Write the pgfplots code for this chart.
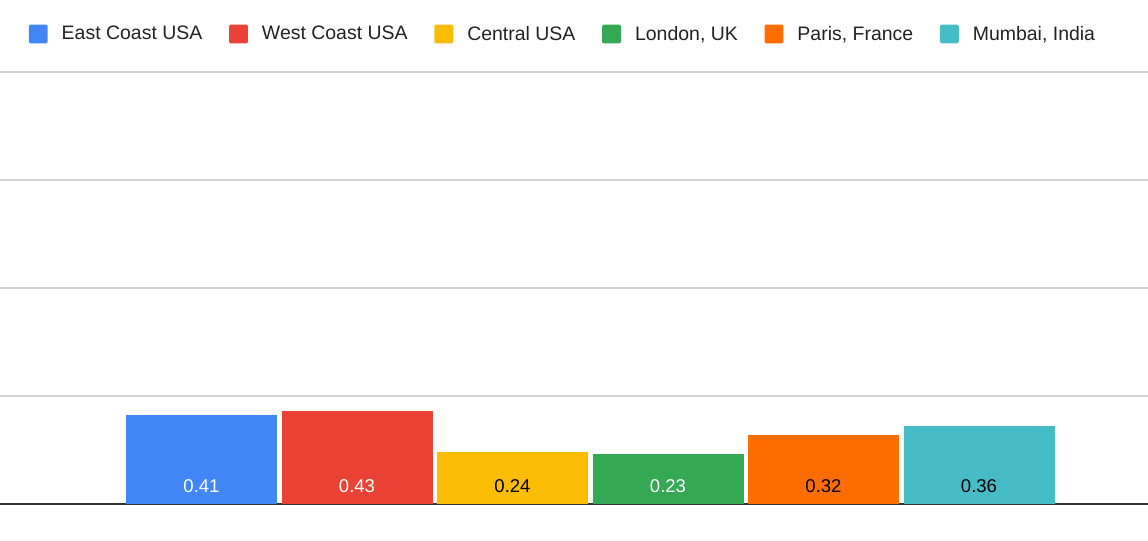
\documentclass[border=0pt]{standalone}
\usepackage{pgfplots}
\pgfplotsset{compat=1.18}
\usepackage{fontspec}
\setmainfont{Liberation Sans}
\definecolor{cBlue}{HTML}{4285F4}
\definecolor{cRed}{HTML}{EA4335}
\definecolor{cYellow}{HTML}{FBBC04}
\definecolor{cGreen}{HTML}{34A853}
\definecolor{cOrange}{HTML}{FF6D01}
\definecolor{cCyan}{HTML}{46BDC6}
\definecolor{gridc}{HTML}{D3D3D3}
\definecolor{basec}{HTML}{333333}
\definecolor{legtext}{HTML}{222222}
\begin{document}
\begin{tikzpicture}[trim axis left, trim axis right]
\begin{axis}[
  scale only axis,
  width=861pt, height=405pt,
  xmin=0, xmax=1148,
  ymin=-0.166667, ymax=2.333333,
  axis line style={draw=none},
  major tick length=0pt,
  xtick=\empty,
  ytick={0.5,1,1.5,2},
  yticklabels={},
  ymajorgrids,
  grid style={color=gridc, line width=0.9pt},
  extra y ticks={0},
  extra y tick labels={},
  extra y tick style={grid style={color=basec, line width=1pt}},
  ybar, bar width=151, bar shift=0pt,
  visualization depends on={y \as \rawy},
  nodes near coords,
  every node near coord/.append style={/pgf/number format/assume math mode=true, /pgf/number format/fixed, /pgf/number format/fixed zerofill, /pgf/number format/precision=2, shift={(axis direction cs:0,-\rawy)}, anchor=center, yshift=13.5pt, font=\fontsize{13.9}{16}\selectfont},
  legend columns=6,
  legend style={draw=none, fill=none, inner sep=0pt, at={(0.4895,0.937)}, anchor=center,
    font=\fontsize{14.6}{17}\selectfont, text=legtext,
    /tikz/every odd column/.append style={column sep=10.5pt},
    /tikz/every even column/.append style={column sep=20pt},
    nodes={inner sep=0pt}},
  legend image code/.code={\fill[#1, rounded corners=1.2pt] (0pt,-7.1pt) rectangle (14.2pt,7.1pt);},
]
\addplot[fill=cBlue, draw=none, every node near coord/.append style={text=white}] coordinates {(201.5,0.41)};
\addlegendentry{East Coast USA}
\addplot[fill=cRed, draw=none, every node near coord/.append style={text=white}] coordinates {(357,0.43)};
\addlegendentry{West Coast USA}
\addplot[fill=cYellow, draw=none, every node near coord/.append style={text=black}] coordinates {(512.5,0.24)};
\addlegendentry{Central USA}
\addplot[fill=cGreen, draw=none, every node near coord/.append style={text=white}] coordinates {(668,0.23)};
\addlegendentry{London, UK}
\addplot[fill=cOrange, draw=none, every node near coord/.append style={text=black}] coordinates {(823.5,0.32)};
\addlegendentry{Paris, France}
\addplot[fill=cCyan, draw=none, every node near coord/.append style={text=black}] coordinates {(979,0.36)};
\addlegendentry{Mumbai, India}
\end{axis}
\end{tikzpicture}
\end{document}
